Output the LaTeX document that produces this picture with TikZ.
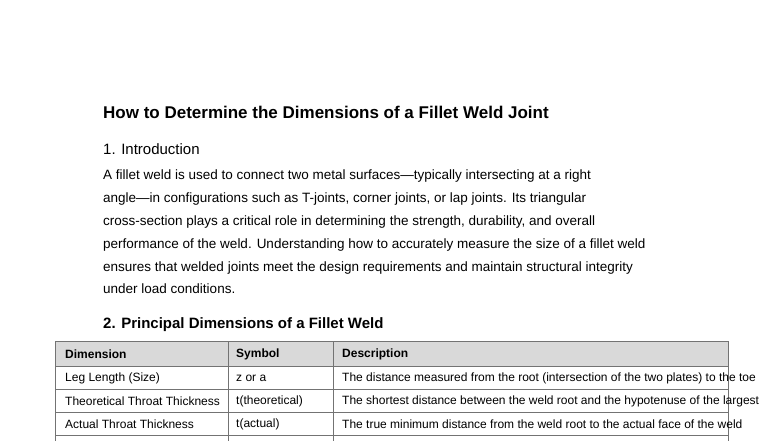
\documentclass[tikz,border=0pt]{standalone}
\usepackage{fontspec}
\setmainfont{Liberation Sans}
\begin{document}
\begin{tikzpicture}[x=1pt,y=-1pt,
  body/.style={anchor=base west,inner sep=0pt,font=\fontsize{13.5}{16}\selectfont},
  cell/.style={anchor=west,inner sep=0pt,font=\fontsize{12}{14}\selectfont},
  hcell/.style={anchor=west,inner sep=0pt,font=\fontsize{12}{14}\selectfont\bfseries},
  grid/.style={draw=black!55,line width=0.6pt}]
\useasboundingbox (0,0) rectangle (784,441);
\node[body,font=\fontsize{17}{20}\selectfont\bfseries] (title) at (103,119) {How to Determine the Dimensions of a Fillet Weld Joint};
\node[body,font=\fontsize{15}{18}\selectfont] (h1) at (103,154) {1. Introduction};
\node[body] (l1) at (103,179) {A fillet weld is used to connect two metal surfaces—typically intersecting at a right};
\node[body] (l2) at (103,202) {angle—in configurations such as T-joints, corner joints, or lap joints. Its triangular};
\node[body] (l3) at (103,225) {cross-section plays a critical role in determining the strength, durability, and overall};
\node[body] (l4) at (103,248) {performance of the weld. Understanding how to accurately measure the size of a fillet weld};
\node[body] (l5) at (103,271) {ensures that welded joints meet the design requirements and maintain structural integrity};
\node[body] (l6) at (103,293) {under load conditions.};
\node[body,font=\fontsize{15}{18}\selectfont\bfseries] (h2) at (103,328) {2. Principal Dimensions of a Fillet Weld};
% table
\fill[black!15] (55,341) rectangle (728,366);
\draw[grid] (55,341) rectangle (728,445);
\foreach \y in {366,389,412,435} \draw[grid] (55,\y) -- (728,\y);
\foreach \x in {228,333} \draw[grid] (\x,341) -- (\x,445);
\node[hcell] (c11) at (65,354) {Dimension};
\node[hcell] (c12) at (236,354) {Symbol};
\node[hcell] (c13) at (342,354) {Description};
\begin{scope}
\clip (55,366) rectangle (228,441);
\node[cell] (c21) at (65,378) {Leg Length (Size)};
\node[cell] (c31) at (65,401) {Theoretical Throat Thickness};
\node[cell] (c41) at (65,424) {Actual Throat Thickness};
\end{scope}
\node[cell] (c22) at (236,378) {z or a};
\node[cell] (c32) at (236,401) {t(theoretical)};
\node[cell] (c42) at (236,424) {t(actual)};
\node[cell] (c23) at (342,378) {The distance measured from the root (intersection of the two plates) to the toe};
\node[cell] (c33) at (342,401) {The shortest distance between the weld root and the hypotenuse of the largest};
\node[cell] (c43) at (342,424) {The true minimum distance from the weld root to the actual face of the weld};
\end{tikzpicture}
\end{document}
